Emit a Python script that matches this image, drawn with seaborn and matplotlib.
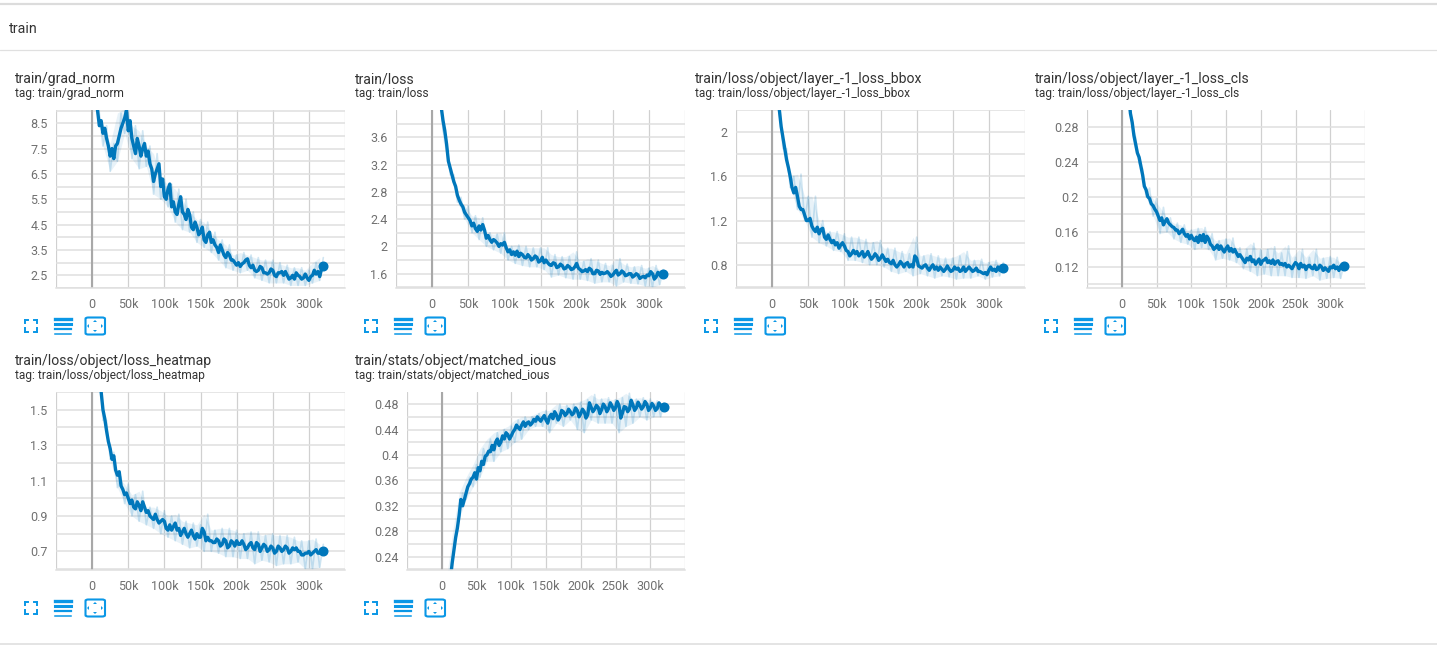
import matplotlib
matplotlib.use("Agg")
import matplotlib.pyplot as plt
from matplotlib.lines import Line2D
from matplotlib.patches import FancyBboxPatch, Polygon
import seaborn as sns

# values: smoothed curve every 2.5k steps, raw curve every 5k
steps = list(range(2500, 320001, 2500))
raw_steps = list(range(5000, 320001, 5000))

grad_norm = [10.2,9.6,9.0,8.4,8.6,8.1,8.3,7.9,7.6,7.2,7.5,7.1,7.6,7.7,8.0,8.3,
             8.5,8.7,9.0,8.2,8.6,7.9,7.6,7.3,7.9,7.6,7.2,7.5,7.7,7.2,7.4,6.9,
             6.7,6.2,6.5,6.7,6.9,6.0,6.3,5.6,5.5,5.9,6.1,5.2,5.4,5.0,4.9,5.3,
             5.6,5.0,4.9,4.7,5.1,4.9,4.4,4.3,4.6,4.4,4.1,4.2,4.4,3.9,3.8,4.1,
             4.2,3.8,3.9,3.7,3.6,3.4,3.7,3.5,3.3,3.2,3.4,3.3,3.1,3.1,3.0,2.9,
             3.0,2.85,2.95,3.0,3.1,3.15,2.9,2.8,2.9,2.7,2.65,2.7,2.85,2.8,2.6,2.6,
             2.55,2.6,2.75,2.7,2.5,2.45,2.6,2.6,2.65,2.5,2.65,2.5,2.35,2.4,2.5,2.35,
             2.6,2.5,2.45,2.35,2.4,2.55,2.4,2.3,2.45,2.5,2.7,2.55,2.65,2.45,2.75,2.85]
grad_norm_raw = [9.9,8.9,7.6,8.4,6.6,7.7,7.0,8.9,8.1,9.1,7.1,8.4,6.7,8.2,6.8,7.6,
                 5.7,7.3,5.5,6.3,5.2,6.1,4.6,5.9,4.3,5.5,4.2,5.0,3.8,4.7,3.6,4.6,
                 3.4,4.2,3.1,3.9,2.8,3.7,2.7,3.3,2.6,3.4,2.7,3.3,2.4,3.2,2.3,3.1,
                 2.2,3.1,2.2,3.0,2.2,2.9,2.1,2.8,2.1,2.8,2.1,2.7,2.2,3.0,2.3,3.2]

loss = [6.0,5.2,4.8,4.4,4.05,3.85,3.7,3.5,3.25,3.15,3.05,2.95,2.88,2.75,2.68,2.62,
        2.58,2.5,2.46,2.42,2.38,2.3,2.34,2.26,2.22,2.3,2.24,2.32,2.24,2.12,2.16,2.1,
        2.06,2.1,2.08,2.05,2.0,2.04,2.02,2.06,1.98,1.92,1.95,1.88,1.92,1.87,1.93,1.85,
        1.9,1.88,1.84,1.83,1.88,1.85,1.8,1.82,1.86,1.84,1.77,1.79,1.84,1.76,1.8,1.76,
        1.73,1.72,1.76,1.75,1.69,1.7,1.74,1.72,1.67,1.68,1.72,1.7,1.66,1.67,1.7,1.75,
        1.68,1.66,1.63,1.64,1.66,1.63,1.68,1.66,1.6,1.6,1.65,1.64,1.59,1.62,1.6,1.61,
        1.63,1.6,1.56,1.58,1.62,1.65,1.58,1.6,1.64,1.62,1.57,1.58,1.6,1.6,1.55,1.57,
        1.6,1.58,1.53,1.55,1.56,1.54,1.58,1.57,1.63,1.6,1.52,1.55,1.62,1.58,1.57,1.6]
loss_raw = [5.4,4.6,3.7,3.55,3.05,3.05,2.65,2.72,2.4,2.6,2.2,2.45,2.1,2.42,2.0,2.2,
            1.95,2.18,1.9,2.2,1.8,2.0,1.75,2.02,1.72,2.0,1.7,1.98,1.7,1.98,1.66,1.98,
            1.55,1.88,1.58,1.85,1.54,1.85,1.52,1.92,1.52,1.78,1.5,1.82,1.46,1.8,1.48,1.75,
            1.48,1.72,1.42,1.82,1.48,1.74,1.46,1.7,1.45,1.72,1.42,1.68,1.4,1.72,1.44,1.66]

loss_bbox = [2.9,2.6,2.4,2.2,2.05,1.95,1.85,1.75,1.68,1.6,1.5,1.45,1.5,1.42,1.33,1.3,
             1.3,1.25,1.2,1.2,1.22,1.15,1.12,1.1,1.14,1.08,1.12,1.13,1.05,1.03,1.07,1.03,
             1.0,1.02,0.98,1.0,0.95,0.98,1.0,0.97,0.93,0.92,0.88,0.9,0.93,0.9,0.92,0.88,
             0.9,0.92,0.87,0.89,0.92,0.88,0.85,0.87,0.9,0.88,0.84,0.86,0.89,0.86,0.83,0.85,
             0.82,0.81,0.84,0.8,0.78,0.8,0.83,0.81,0.78,0.81,0.82,0.78,0.8,0.78,0.88,0.86,
             0.79,0.78,0.77,0.79,0.8,0.77,0.75,0.78,0.8,0.76,0.78,0.75,0.78,0.76,0.74,0.76,
             0.79,0.76,0.74,0.75,0.78,0.76,0.77,0.74,0.75,0.78,0.74,0.76,0.78,0.76,0.74,0.75,
             0.77,0.74,0.74,0.73,0.72,0.73,0.71,0.75,0.78,0.75,0.76,0.74,0.78,0.75,0.77,0.77]
loss_bbox_raw = [2.7,2.3,1.85,1.85,1.5,1.6,1.3,1.62,1.2,1.42,1.05,1.42,1.0,1.2,0.97,1.1,
                 0.93,1.1,0.92,1.08,0.84,1.05,0.84,1.05,0.82,1.03,0.8,1.0,0.8,1.02,0.78,0.95,
                 0.74,0.95,0.72,0.92,0.74,0.9,0.7,1.05,0.72,0.88,0.7,0.9,0.68,0.88,0.7,0.86,
                 0.69,0.86,0.67,0.88,0.68,0.92,0.68,0.84,0.7,0.85,0.67,0.82,0.69,0.84,0.7,0.82]

loss_cls = [0.4,0.36,0.335,0.315,0.295,0.285,0.27,0.26,0.25,0.245,0.235,0.225,0.212,0.208,0.2,0.198,
            0.192,0.19,0.186,0.183,0.178,0.173,0.176,0.168,0.172,0.175,0.17,0.168,0.166,0.165,0.162,0.162,
            0.158,0.16,0.163,0.158,0.155,0.157,0.152,0.156,0.152,0.15,0.154,0.148,0.156,0.15,0.157,0.148,
            0.155,0.152,0.146,0.144,0.14,0.142,0.145,0.14,0.144,0.14,0.137,0.141,0.144,0.138,0.141,0.137,
            0.14,0.136,0.132,0.134,0.131,0.128,0.125,0.13,0.128,0.132,0.126,0.128,0.123,0.126,0.129,0.123,
            0.127,0.128,0.13,0.125,0.127,0.124,0.128,0.123,0.126,0.127,0.123,0.124,0.122,0.124,0.12,0.122,
            0.12,0.118,0.122,0.125,0.123,0.118,0.124,0.12,0.122,0.117,0.121,0.122,0.119,0.118,0.122,0.117,
            0.118,0.122,0.12,0.116,0.119,0.117,0.115,0.12,0.119,0.122,0.118,0.12,0.116,0.121,0.118,0.121]
loss_cls_raw = [0.37,0.325,0.28,0.268,0.238,0.232,0.2,0.21,0.178,0.198,0.158,0.188,0.16,0.176,0.152,0.17,
                0.148,0.168,0.146,0.162,0.14,0.164,0.142,0.165,0.14,0.158,0.128,0.15,0.13,0.152,0.128,0.153,
                0.125,0.142,0.118,0.14,0.115,0.147,0.11,0.14,0.112,0.14,0.11,0.143,0.11,0.136,0.11,0.144,
                0.108,0.131,0.108,0.14,0.107,0.131,0.11,0.14,0.105,0.13,0.107,0.132,0.108,0.131,0.107,0.125]

loss_heatmap = [2.2,2.0,1.85,1.72,1.6,1.5,1.45,1.38,1.32,1.28,1.22,1.24,1.16,1.13,1.15,1.07,
                1.05,1.02,1.03,1.0,0.97,0.99,0.95,0.94,0.98,0.96,0.93,0.98,0.95,0.92,0.93,0.9,
                0.89,0.88,0.91,0.88,0.86,0.87,0.88,0.87,0.83,0.82,0.85,0.82,0.84,0.86,0.82,0.83,
                0.79,0.81,0.83,0.8,0.78,0.8,0.82,0.79,0.77,0.8,0.78,0.78,0.83,0.81,0.76,0.78,
                0.76,0.76,0.75,0.75,0.77,0.76,0.73,0.74,0.77,0.76,0.72,0.73,0.76,0.75,0.73,0.76,
                0.74,0.74,0.76,0.74,0.71,0.72,0.74,0.75,0.72,0.71,0.75,0.74,0.7,0.72,0.74,0.73,
                0.7,0.71,0.73,0.72,0.69,0.7,0.73,0.72,0.7,0.71,0.73,0.72,0.69,0.7,0.72,0.71,
                0.72,0.7,0.7,0.68,0.68,0.69,0.69,0.7,0.68,0.69,0.7,0.71,0.69,0.69,0.71,0.7]
loss_heatmap_raw = [2.1,1.78,1.44,1.44,1.22,1.26,1.06,1.12,0.97,1.08,0.9,1.02,0.87,1.04,0.85,0.95,
                    0.83,0.95,0.8,0.93,0.78,0.9,0.76,0.91,0.74,0.87,0.72,0.86,0.73,0.85,0.7,0.91,
                    0.7,0.82,0.69,0.83,0.67,0.83,0.67,0.82,0.66,0.8,0.66,0.81,0.63,0.81,0.65,0.79,
                    0.64,0.8,0.62,0.79,0.63,0.79,0.63,0.78,0.64,0.76,0.6,0.76,0.6,0.77,0.61,0.74]

matched_ious = [0.09,0.12,0.15,0.18,0.205,0.23,0.25,0.27,0.285,0.305,0.33,0.32,0.33,0.34,0.35,0.355,
                0.362,0.365,0.372,0.362,0.38,0.375,0.39,0.385,0.398,0.4,0.406,0.405,0.415,0.408,0.42,0.425,
                0.415,0.42,0.43,0.425,0.435,0.432,0.425,0.43,0.436,0.44,0.447,0.443,0.44,0.447,0.452,0.445,
                0.45,0.452,0.447,0.45,0.456,0.453,0.46,0.456,0.453,0.458,0.462,0.455,0.45,0.46,0.464,0.457,
                0.468,0.463,0.455,0.46,0.47,0.468,0.462,0.465,0.472,0.468,0.463,0.466,0.474,0.47,0.46,0.465,
                0.472,0.468,0.458,0.463,0.482,0.475,0.468,0.472,0.478,0.475,0.465,0.471,0.48,0.476,0.468,0.473,
                0.482,0.477,0.47,0.474,0.484,0.478,0.458,0.466,0.476,0.475,0.468,0.472,0.486,0.479,0.47,0.474,
                0.483,0.478,0.472,0.476,0.484,0.48,0.47,0.474,0.481,0.477,0.47,0.473,0.482,0.478,0.472,0.475]
matched_ious_raw = [0.11,0.19,0.225,0.275,0.3,0.34,0.33,0.365,0.35,0.385,0.365,0.41,0.39,0.425,0.39,0.435,
                    0.405,0.44,0.41,0.445,0.42,0.455,0.425,0.46,0.44,0.46,0.445,0.465,0.445,0.47,0.435,0.47,
                    0.45,0.48,0.445,0.478,0.455,0.48,0.44,0.483,0.435,0.487,0.455,0.495,0.45,0.488,0.45,0.49,
                    0.45,0.487,0.435,0.49,0.445,0.497,0.45,0.488,0.46,0.49,0.455,0.488,0.46,0.485,0.46,0.482]

x_ticks = [-50000, 0, 50000, 100000, 150000, 200000, 250000, 300000, 350000]
x_labels = ["", "0", "50k", "100k", "150k", "200k", "250k", "300k", ""]

W, H = 1437, 645
BLUE = "#0077bb"
ICON = "#0a97e6"

# title, smooth, raw, labelled y ticks, labels, unlabelled y ticks, ylim, text x, row offset, axes x range
panels = [
    ("train/grad_norm", grad_norm, grad_norm_raw, [2.5, 3.5, 4.5, 5.5, 6.5, 7.5, 8.5],
     ["2.5", "3.5", "4.5", "5.5", "6.5", "7.5", "8.5"], [2, 3, 4, 5, 6, 7, 8, 9], (2.05, 9.02), 15, 0, (56, 345)),
    ("train/loss", loss, loss_raw, [1.6, 2.0, 2.4, 2.8, 3.2, 3.6],
     ["1.6", "2", "2.4", "2.8", "3.2", "3.6"], [1.4, 1.8, 2.2, 2.6, 3.0, 3.4, 3.8], (1.39, 4.0), 355, 0, (396, 685)),
    ("train/loss/object/layer_-1_loss_bbox", loss_bbox, loss_bbox_raw, [0.8, 1.2, 1.6, 2.0],
     ["0.8", "1.2", "1.6", "2"], [0.6, 1.0, 1.4, 1.8, 2.2], (0.59, 2.2), 695, 0, (736, 1025)),
    ("train/loss/object/layer_-1_loss_cls", loss_cls, loss_cls_raw, [0.12, 0.16, 0.2, 0.24, 0.28],
     ["0.12", "0.16", "0.2", "0.24", "0.28"], [0.1, 0.14, 0.18, 0.22, 0.26], (0.096, 0.299), 1035, 0, (1087, 1365)),
    ("train/loss/object/loss_heatmap", loss_heatmap, loss_heatmap_raw, [0.7, 0.9, 1.1, 1.3, 1.5],
     ["0.7", "0.9", "1.1", "1.3", "1.5"], [0.6, 0.8, 1.0, 1.2, 1.4, 1.6], (0.595, 1.595), 15, 282, (56, 345)),
    ("train/stats/object/matched_ious", matched_ious, matched_ious_raw, [0.24, 0.28, 0.32, 0.36, 0.4, 0.44, 0.48],
     ["0.24", "0.28", "0.32", "0.36", "0.4", "0.44", "0.48"], [0.22, 0.26, 0.3, 0.34, 0.38, 0.42, 0.46], (0.219, 0.499), 355, 282, (407, 685)),
]

sns.set_theme(style="white")
plt.rcParams["font.family"] = ["Roboto", "DejaVu Sans"]

fig = plt.figure(figsize=(W / 100, H / 100), dpi=100)


def fx(x):
    return x / W


def fy(y):
    return 1 - y / H


def hline(y, color, lw):
    fig.add_artist(Line2D([0, 1], [fy(y), fy(y)], color=color, lw=lw, transform=fig.transFigure))


def seg(x0, y0, x1, y1, lw=1.5):
    fig.add_artist(Line2D([fx(x0), fx(x1)], [fy(y0), fy(y1)], color=ICON, lw=lw,
                          solid_capstyle="projecting", transform=fig.transFigure))


def draw_icons(left, top):
    # fullscreen corners
    x0, x1, y0, y1 = left + 9.5, left + 22, top, top + 12
    for cx, cy, dx, dy in [(x0, y0, 3.5, 3.5), (x1, y0, -3.5, 3.5), (x0, y1, 3.5, -3.5), (x1, y1, -3.5, -3.5)]:
        seg(cx, cy, cx + dx, cy, 1.4)
        seg(cx, cy, cx, cy + dy, 1.4)
    # the four bars
    for i, lw in enumerate([2.4, 2.2, 1.6, 1.1]):
        y = top - 0.5 + i * 5
        seg(left + 40, y, left + 56, y, lw)
    # framed fit icon
    fig.add_artist(FancyBboxPatch((fx(left + 70.5), fy(top + 15)), 19.5 / W, 17 / H,
                                  boxstyle="round,pad=0,rounding_size=0.002", fc="none", ec=ICON,
                                  lw=1.5, transform=fig.transFigure))
    cx, cy = left + 80, top + 6.5
    for pts in [[(cx - 2, cy - 4), (cx + 2, cy - 4), (cx, cy - 6)], [(cx - 2, cy + 4), (cx + 2, cy + 4), (cx, cy + 6)],
                [(cx - 6, cy - 2), (cx - 6, cy + 2), (cx - 8, cy)], [(cx + 6, cy - 2), (cx + 6, cy + 2), (cx + 8, cy)]]:
        fig.add_artist(Polygon([(fx(a), fy(b)) for a, b in pts], fc=ICON, ec="none", transform=fig.transFigure))


hline(3.5, "#dcdcdc", 1.6)
hline(49.5, "#e0e0e0", 0.9)
hline(643.8, "#dcdcdc", 1.1)
fig.text(fx(9), fy(29), "train", fontsize=10.3, color="#333333", va="center")

for title, smooth, raw, major, labels, minor, ylim, tx, row, (ax0, ax1) in panels:
    fig.text(fx(tx), fy(79 + row), title, fontsize=10.1, color="#333333", va="center")
    fig.text(fx(tx), fy(93 + row), "tag: " + title, fontsize=8.6, color="#333333", va="center")

    top, bottom = 110 + row, 288 + row
    ax = fig.add_axes([fx(ax0), fy(bottom), (ax1 - ax0) / W, (bottom - top) / H])
    # pale band and spikes of the raw curve, then the smoothed curve on top
    ax.fill_between(raw_steps[::2], raw[::2], raw[1::2], color=BLUE, alpha=0.09, lw=0)
    sns.lineplot(x=raw_steps, y=raw, ax=ax, color=BLUE, alpha=0.18, lw=1.2, estimator=None, sort=False)
    sns.lineplot(x=steps, y=smooth, ax=ax, color=BLUE, lw=2.4, estimator=None, sort=False)
    ax.plot(steps[-1], smooth[-1], "o", color=BLUE, ms=6.2, zorder=5)

    ax.axvline(0, color="#a8a8a8", lw=1.5, zorder=1)
    ax.set_xlim(-50000, 350000)
    ax.set_ylim(*ylim)
    ax.set_xticks(x_ticks)
    ax.set_xticklabels(x_labels)
    ax.set_yticks(major)
    ax.set_yticklabels(labels)
    ax.set_yticks(minor, minor=True)
    ax.set_axisbelow(True)
    ax.grid(axis="x", color="#d0d0d0", lw=0.9)
    ax.grid(axis="y", which="both", color="#dfdfdf", lw=1.1)
    ax.tick_params(axis="x", length=4, width=0.9, color="#cccccc", labelsize=9, labelcolor="#707070", pad=3)
    ax.tick_params(axis="y", which="both", length=4, width=1.0, color="#dfdfdf", labelsize=9,
                   labelcolor="#707070", pad=2)
    sns.despine(ax=ax, left=True, top=True, right=True)
    ax.spines["bottom"].set_color("#dfdfdf")
    ax.spines["bottom"].set_linewidth(1.1)

    draw_icons(tx, 319.5 + row)

fig.savefig("out.png", dpi=100)
